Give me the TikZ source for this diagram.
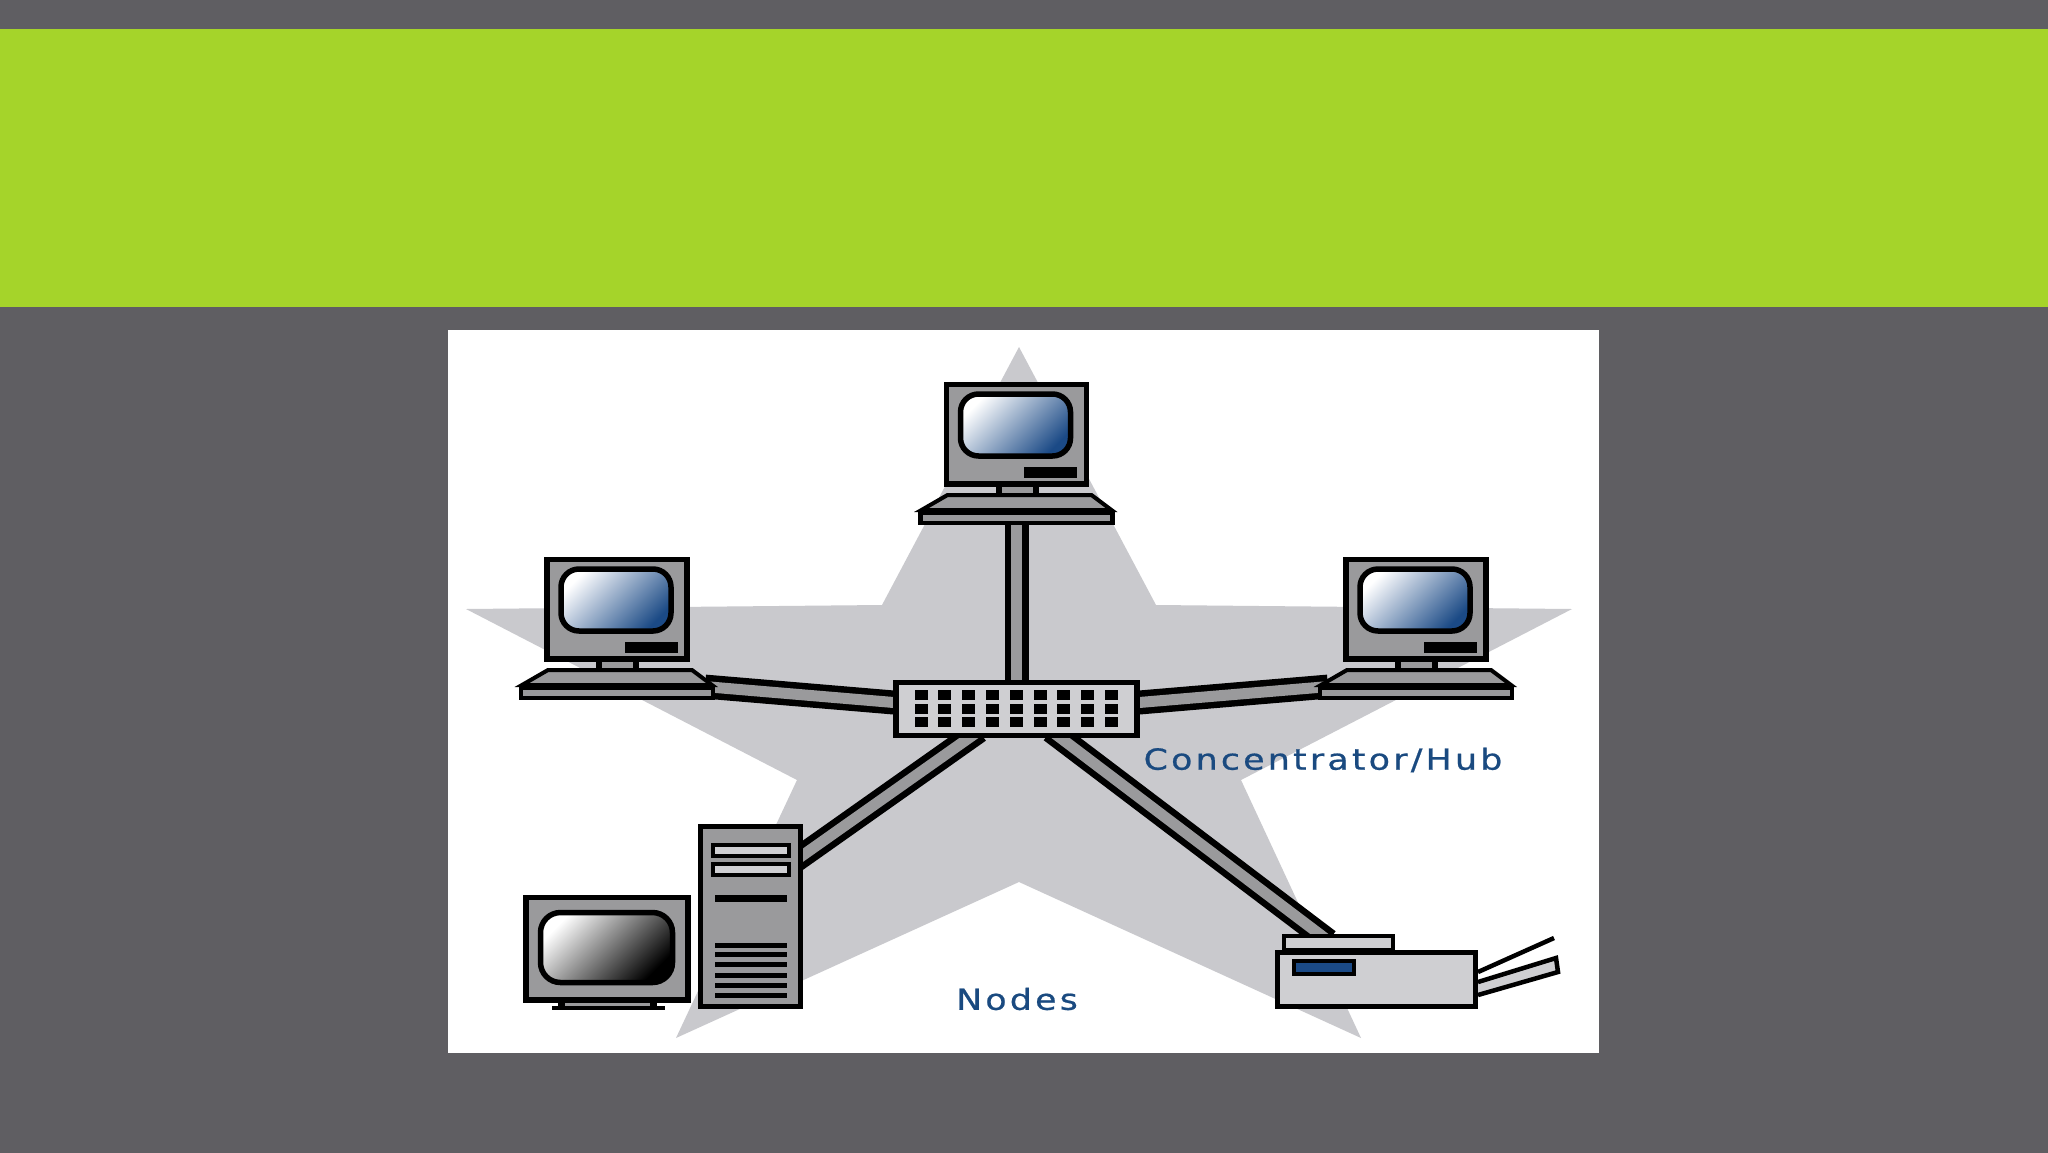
\documentclass[tikz,border=0pt]{standalone}
\usepackage{fontspec}
\setmainfont{DejaVu Sans}
\newfontfamily\widefont[FakeStretch=1.2,LetterSpace=11,FakeBold=0.7]{DejaVu Sans}
\usetikzlibrary{backgrounds}
\definecolor{slidegray}{HTML}{5F5E62}
\definecolor{bandgreen}{HTML}{A5D42A}
\definecolor{stargray}{HTML}{C9C9CD}
\definecolor{devgray}{HTML}{9A9A9C}
\definecolor{lightgray}{HTML}{CFCFD2}
\definecolor{screenblue}{HTML}{1B4A86}
\definecolor{labelblue}{HTML}{1A4A80}
\tikzset{
	device/.style={draw=black,fill=devgray,line width=5.5pt},
	part/.style={device,inner sep=0pt,outer sep=0pt},
	cable/.style={draw=black,line width=6.5pt,double=devgray,double distance=11pt,shorten >=-8pt,shorten <=-8pt},
	label/.style={text=labelblue,inner sep=0pt,font=\widefont\fontsize{29pt}{32pt}\selectfont},
	computer/.pic={
		\fill[devgray] (-20,100) rectangle (20,114);
		\fill[black] (-21,103) rectangle (-15,112);
		\fill[black] (16,103) rectangle (22,112);
		\draw[device] (-70,2.5) rectangle (70,102);
		\draw[draw=black,line width=5.5pt,rounded corners=18pt,top color=white,middle color=screenblue!65!white,bottom color=screenblue,shading angle=45] (-56,12) rectangle (54,74);
		\fill[black] (7.5,85) rectangle (60.5,96);
		\draw[device,line width=4pt] (-69,113) -- (75,113) -- (95,128) -- (-95,128) -- cycle;
		\node[part,line width=4.5pt,fill=devgray,minimum width=192pt,minimum height=10.5pt] (-kbd) at (0,135.5) {};
	}
}
\begin{document}
\begin{tikzpicture}[x=1pt,y=-1pt]
	\useasboundingbox (0,0) rectangle (2048,1152);
	% devices
	\pic (top) at (1016.5,382) {computer};
	\pic (left) at (617,557) {computer};
	\pic (right) at (1416,557) {computer};
	\node[part,fill=lightgray,minimum width=241pt,minimum height=53pt] (hub) at (1016.5,709) {};
	\foreach \i in {0,1,...,8}{
		\foreach \y in {695,709,722}{
			\fill[black] (921+\i*23.8-6.5,\y-5) rectangle (921+\i*23.8+6.5,\y+5);
		}
	}
	% tower and its monitor
	\node[part,minimum width=100pt,minimum height=180pt] (tower) at (750.5,916.5) {};
	\foreach \y in {843,862}{
		\draw[black,line width=4.5pt,fill=lightgray] (713,\y+2) rectangle (789,\y+13);
	}
	\fill[black] (715,895) rectangle (787,902);
	\foreach \y in {945,954,964,975,985,995}{
		\fill[black] (715,\y-2.5) rectangle (787,\y+2.5);
	}
	\fill[black] (558,1000) rectangle (565,1008);
	\fill[black] (650,1000) rectangle (657,1008);
	\fill[devgray] (565,1002) rectangle (650,1006);
	\fill[black] (552,1006) rectangle (665,1010);
	\draw[device] (526,897.5) rectangle (688,1000);
	\draw[draw=black,line width=5.5pt,rounded corners=20pt,top color=white,middle color=black!65!white,bottom color=black,shading angle=45] (540.5,912.5) rectangle (672.5,982.5);
	% printer
	\draw[black,line width=4.5pt] (1478,972) -- (1554,938);
	\draw[black,line width=4.5pt,fill=lightgray] (1478,982) -- (1556,958) -- (1558,972) -- (1478,995);
	\node[part,fill=lightgray,line width=4.5pt,minimum width=109pt,minimum height=14pt] (tray) at (1338.5,943) {};
	\node[part,fill=lightgray,minimum width=198pt,minimum height=54pt] (printer) at (1376.5,979.5) {};
	\draw[black,line width=4.5pt,fill=screenblue] (1294,961) rectangle (1354,974);
	% labels
	\node[label] (hublabel) at (1323,760) {Concentrator/Hub};
	\node[label] (nodelabel) at (1017,999) {Nodes};
	\begin{scope}[on background layer]
		\fill[slidegray] (-2,-2) rectangle (2050,1154);
		\fill[bandgreen] (-2,29) rectangle (2050,307);
		\fill[white] (448,330) rectangle (1599,1053);
		\fill[stargray] (1019,347) -- (1156,605) -- (1572,609) -- (1241,780) -- (1361,1038) -- (1019,882)
			-- (676,1038) -- (797,780) -- (466,609) -- (882,605) -- cycle;
		% connectors
		\draw[cable] (top-kbd.south) -- (hub.north);
		\draw[cable] (left-kbd.north east) -- (hub.177);
		\draw[cable] (right-kbd.north west) -- (hub.3);
		\draw[cable] (tower.50) -- (hub.211);
		\draw[cable] (tray.157) -- (hub.-33);
	\end{scope}
\end{tikzpicture}
\end{document}
